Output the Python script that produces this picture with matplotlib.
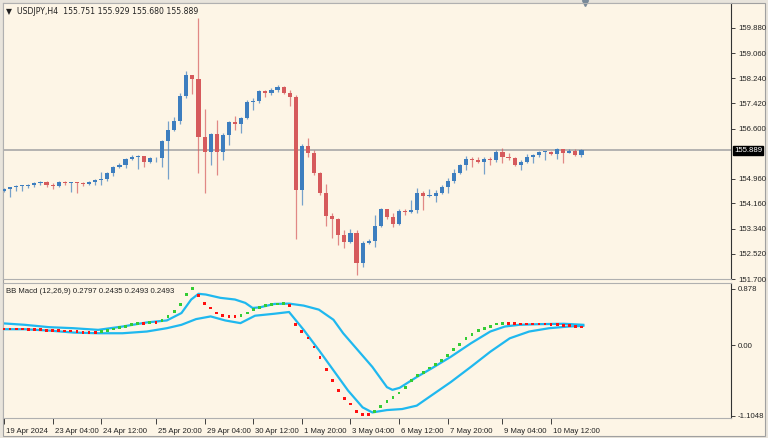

import matplotlib
matplotlib.use("Agg")
import matplotlib.pyplot as plt
import numpy as np

closes=[154.63,154.69,154.73,154.74,154.77,154.82,154.85,154.76,154.74,154.86,154.82,154.85,154.84,154.80,154.86,154.91,154.96,155.14,155.36,155.40,155.60,155.69,155.71,155.51,155.63,155.63,156.21,156.56,156.85,157.66,158.36,158.21,156.32,155.85,156.42,155.85,156.39,156.83,156.75,156.96,157.48,157.51,157.82,157.75,157.86,157.97,157.77,157.62,154.60,156.04,155.82,155.14,154.51,153.75,153.64,153.13,152.92,153.21,152.21,152.88,152.95,153.43,153.97,153.73,153.49,153.93,153.87,153.95,154.49,154.40,154.40,154.51,154.69,154.90,155.16,155.41,155.62,155.56,155.51,155.62,155.58,155.85,155.69,155.64,155.41,155.52,155.69,155.74,155.84,155.84,155.77,155.94,155.82,155.88,155.73,155.889]
opens=[154.57]+closes[:-1]
opens[-1]=155.751
highs=[154.65,154.71,154.76,154.77,154.81,154.85,154.88,154.88,154.83,154.89,154.88,154.87,154.86,154.86,154.89,154.95,155.17,155.18,155.39,155.47,155.64,155.73,155.75,155.72,155.66,155.68,156.24,156.85,156.97,157.75,158.47,158.24,160.20,157.23,156.47,156.88,156.47,156.86,157.01,156.99,157.53,157.61,157.86,157.86,157.91,158.01,157.99,157.84,157.70,156.10,156.28,155.90,155.20,154.80,153.84,153.68,153.30,153.32,153.30,152.95,152.99,153.78,154.00,153.99,153.84,153.97,153.97,154.27,154.65,154.58,154.62,154.60,154.75,154.98,155.27,155.45,155.71,155.66,155.69,155.69,155.69,155.90,155.96,155.82,155.69,155.58,155.77,155.77,155.88,155.88,155.88,155.97,155.95,155.93,155.93,155.929]
lows=[154.55,154.38,154.58,154.58,154.65,154.69,154.75,154.71,154.63,154.69,154.75,154.55,154.51,154.73,154.75,154.76,154.76,154.90,155.07,155.31,155.33,155.56,155.27,155.34,155.47,155.51,155.36,154.95,156.53,156.75,157.59,157.73,155.16,154.51,155.41,155.09,155.58,156.07,156.56,156.47,156.90,157.21,157.42,157.62,157.70,157.80,157.73,157.34,152.99,154.11,155.69,155.09,154.44,153.43,153.02,152.81,152.70,152.86,151.83,152.10,152.83,152.75,153.38,153.64,153.38,153.45,153.80,153.84,153.84,153.95,154.36,154.20,154.47,154.51,154.84,155.12,155.25,155.34,155.47,155.12,155.40,155.52,155.49,155.58,155.38,155.25,155.47,155.49,155.69,155.58,155.73,155.62,155.47,155.79,155.71,155.680]

macd=[.25,.25,.25,.25,.24,.24,.24,.23,.23,.23,.22,.22,.21,.20,.19,.19,.21,.23,.25,.27,.29,.32,.34,.34,.35,.35,.38,.45,.52,.63,.79,.88,.77,.65,.58,.50,.46,.45,.44,.46,.50,.55,.59,.62,.63,.64,.65,.62,.32,.21,.11,-.03,-.19,-.38,-.55,-.71,-.84,-.92,-1.04,-1.08,-1.09,-1.04,-.96,-.88,-.82,-.75,-.66,-.56,-.48,-.43,-.36,-.30,-.24,-.16,-.07,.01,.10,.17,.23,.26,.29,.33,.34,.34,.34,.33,.33,.33,.33,.33,.32,.32,.31,.30,.29,.28]
up_x=[-0.7,3.4,7.4,11.4,15.5,19.5,23.5,26.8,29.2,30.8,32.0,33.2,35.6,38.0,39.7,40.9,42.1,44.5,46.9,49.3,51.8,54.2,55.8,58.2,60.6,63.0,63.9,65.1,67.9,70.3,73.5,76.8,80.0,82.4,84.8,88.0,92.1,95.3]
up_y=[0.342,0.316,0.279,0.263,0.237,0.289,0.353,0.384,0.5,0.711,0.8,0.789,0.737,0.711,0.658,0.579,0.589,0.642,0.647,0.616,0.553,0.395,0.184,-0.079,-0.342,-0.658,-0.7,-0.668,-0.5,-0.368,-0.184,0.026,0.211,0.289,0.316,0.326,0.332,0.316]
lo_x=[-0.7,3.4,7.4,11.4,15.5,19.5,23.5,26.8,29.2,31.6,34.0,36.4,38.9,41.3,44.5,46.9,49.3,51.8,54.2,56.6,59.0,60.6,63.0,65.5,67.9,70.3,73.5,76.8,80.0,83.2,86.4,89.7,92.9,95.3]
lo_y=[0.247,0.247,0.226,0.195,0.184,0.184,0.211,0.263,0.316,0.405,0.447,0.384,0.342,0.458,0.489,0.516,0.237,-0.079,-0.395,-0.711,-0.974,-1.053,-1.016,-1.0,-0.947,-0.789,-0.579,-0.342,-0.105,0.105,0.211,0.263,0.289,0.3]

price_ticks=[151.700,152.520,153.340,154.160,154.960,156.600,157.420,158.240,159.060,159.880]
macd_ticks=[0.878,0.0,-1.1048]
macd_tick_labels=["0.878","0.00","-1.1048"]
date_pos=[0,8,16,25,33,41,49,57,65,73,82,90]
date_labels=["19 Apr 2024","23 Apr 04:00","24 Apr 12:00","25 Apr 20:00","29 Apr 04:00","30 Apr 12:00","1 May 20:00","3 May 04:00","6 May 12:00","7 May 20:00","9 May 04:00","10 May 12:00"]
last_price=155.889

BG="#FDF5E6"; BULL="#3D7EBF"; BEAR="#D65A5C"; BAND="#1FB8EF"; TXT="#222222"
FS=5.6
plt.rcParams['font.family']=['Liberation Sans','DejaVu Sans']
fig=plt.figure(figsize=(7.68,4.38),dpi=100,facecolor="#E8E4DC")
W,H=768,438
def ax_at(x0,y0,x1,y1):
    return fig.add_axes([x0/W,1-y1/H,(x1-x0)/W,(y1-y0)/H])
ax=ax_at(3,3,731,279); ax2=ax_at(3,283,731,418)
for a in (ax,ax2):
    a.set_facecolor(BG)
    a.set_xlim(-0.16,119.6)
    for s in ("left","top"): a.spines[s].set_color("#B0B0B0")
    a.spines["right"].set_color("#333333"); a.spines["bottom"].set_color("#B0B0B0")
    a.yaxis.tick_right()
    a.tick_params(axis='y',length=3,width=0.6,colors=TXT,labelsize=FS,pad=2)
fig.patches.append(plt.Rectangle((3/W,1-436/H),1-6/W,(436-3)/H,transform=fig.transFigure,facecolor=BG,edgecolor="#A0A0A0",lw=0.8,zorder=-11))

x=np.arange(len(closes))
o=np.array(opens); c=np.array(closes); hh=np.array(highs); ll=np.array(lows)
col=np.where(c>=o,BULL,BEAR)
ax.vlines(x,ll,hh,colors=col,lw=0.9,alpha=0.7,zorder=2)
ax.bar(x,np.maximum(np.abs(c-o),0.02),bottom=np.minimum(o,c),width=0.68,color=col,zorder=3)
ax.axhline(last_price,color="#A8A8A8",lw=1.2,zorder=1)
ax.set_ylim(151.70,160.69)
ax.set_yticks(price_ticks); ax.set_yticklabels([f"{v:.3f}" for v in price_ticks])
ax.set_xticks([])
ax.text(1.004,last_price,f"{last_price:.3f}",transform=ax.get_yaxis_transform(),fontsize=FS,color="white",va="center",ha="left",
        bbox=dict(boxstyle="square,pad=0.15",fc="black",ec="black"),clip_on=False)
ax.text(0.004,0.985,"▼  USDJPY,H4  155.751 155.929 155.680 155.889",transform=ax.transAxes,fontsize=FS,color=TXT,va="top",ha="left",
        family=['DejaVu Sans'])
ax.plot([95.5],[160.69],marker="v",color="#7A8A99",ms=5,clip_on=False)

ax2.plot(up_x,up_y,color=BAND,lw=1.6)
ax2.plot(lo_x,lo_y,color=BAND,lw=1.6)
m=np.array(macd)
mc=["#FF1010"]+[("#33CC33" if m[i]>m[i-1] else "#FF1010") for i in range(1,len(m))]
ax2.scatter(x,m,s=4,c=mc,marker="s",lw=0,zorder=3)
ax2.set_ylim(-1.14,0.969)
ax2.set_yticks(macd_ticks); ax2.set_yticklabels(macd_tick_labels)
ax2.set_xticks(date_pos); ax2.set_xticklabels(date_labels,ha="left")
ax2.tick_params(axis='x',length=4,width=0.6,colors=TXT,labelsize=FS,pad=3,direction="out")
for t in ax2.get_xticklabels():
    t.set_x(t.get_position()[0])
import matplotlib.transforms as mt
off=mt.ScaledTranslation(2/100,0,fig.dpi_scale_trans)
for t in ax2.get_xticklabels(): t.set_transform(t.get_transform()+off)
ax2.text(0.004,0.96,"BB Macd (12,26,9) 0.2797 0.2435 0.2493 0.2493",transform=ax2.transAxes,fontsize=FS,color=TXT,va="top",ha="left")
fig.savefig("out.png",dpi=100,facecolor=fig.get_facecolor())
